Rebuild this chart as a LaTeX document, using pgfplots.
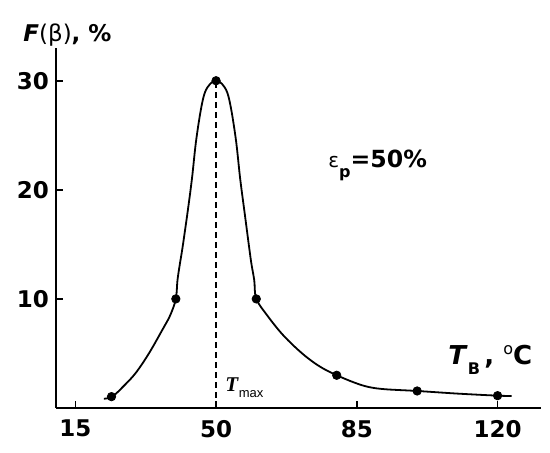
\documentclass[border=0pt]{standalone}
\usepackage{pgfplots}
\pgfplotsset{compat=1.18}
\usepackage{fontspec}
\setmainfont{DejaVu Sans}
\newfontfamily\serifit{Liberation Serif}
\newfontfamily\arialf{Liberation Sans}
\begin{document}
\begin{tikzpicture}
\useasboundingbox (0,0) rectangle (275pt,226.5pt);
\begin{axis}[
  at={(28pt,22.5pt)}, anchor=south west,
  scale only axis, width=242.5pt, height=180pt,
  xmin=10.2, xmax=130.8, ymin=0, ymax=33,
  axis lines*=left,
  axis line style={line width=0.9pt},
  xtick={15,50,85,120}, ytick={10,20,30},
  tick align=inside, major tick length=3.5pt,
  tick style={line width=0.8pt, black},
  ticklabel style={font=\bfseries\fontsize{11.5}{13}\selectfont},
  /pgf/number format/assume math mode=true,
  xticklabel style={yshift=-2.5pt},
  yticklabel style={xshift=0pt},
  clip=false,
]
\addplot[black, line width=0.9pt, smooth, tension=0.55] coordinates {
 (22.1,0.85)(24.2,1.04)(27,2.0)(30,3.2)(33.3,5.0)(36.7,7.2)(38.6,8.5)
 (40,10)(40.4,11.7)(41.0,13.2)(41.7,14.8)(42.9,17.9)(44.0,21.0)
 (45.0,24.4)(46.2,27.3)(47.2,28.9)(48.5,29.7)(50,30.05)
 (51.5,29.7)(52.8,28.9)(53.8,27.3)(55.0,24.4)(56.0,21.0)(57.1,17.9)
 (58.2,14.8)(58.8,13.2)(59.5,11.7)(60,10)
 (62.9,8.4)(66.25,6.85)(69.6,5.6)(72.9,4.55)(76.25,3.7)(80,3.0)
 (84.6,2.3)(88,1.92)(92,1.72)(100,1.56)(110,1.32)(120,1.13)(123.5,1.1)
};
\addplot[black, only marks, mark=*, mark size=2.1pt] coordinates {
 (24,1.04)(40,10)(50,30)(60,10)(80,3)(100,1.56)(120,1.13)
};
\addplot[black, line width=0.6pt, dash pattern=on 3pt off 2pt] coordinates {(50,0)(50,30)};
\end{axis}
\node[anchor=base west, inner sep=0pt] at (11.5pt,205.5pt)
  {\fontsize{11.5}{13}\selectfont\textbf{\textit{F}}(β)\textbf{, \%}};
\node[anchor=base west, inner sep=0pt] at (164pt,142.5pt)
  {\fontsize{10}{13}\selectfont ε\raisebox{-5pt}{\textbf{\fontsize{8}{10}\selectfont p}}\textbf{\fontsize{11.8}{15}\selectfont=50\%}};
\node[anchor=base west, inner sep=0pt] at (224pt,44pt)
  {\fontsize{13}{16}\selectfont\textbf{\textit{T}}\raisebox{-5pt}{\textbf{\fontsize{8}{10}\selectfont B}}\textbf{\,, }\raisebox{5pt}{\fontsize{8}{9}\selectfont o}\textbf{C}};
\node[anchor=base west, inner sep=0pt] at (112.5pt,30.5pt)
  {{\serifit\fontsize{10.5}{12}\selectfont\textbf{\textit{T}}}\raisebox{-3pt}{\arialf\fontsize{6.5}{8}\selectfont max}};
\end{tikzpicture}
\end{document}
